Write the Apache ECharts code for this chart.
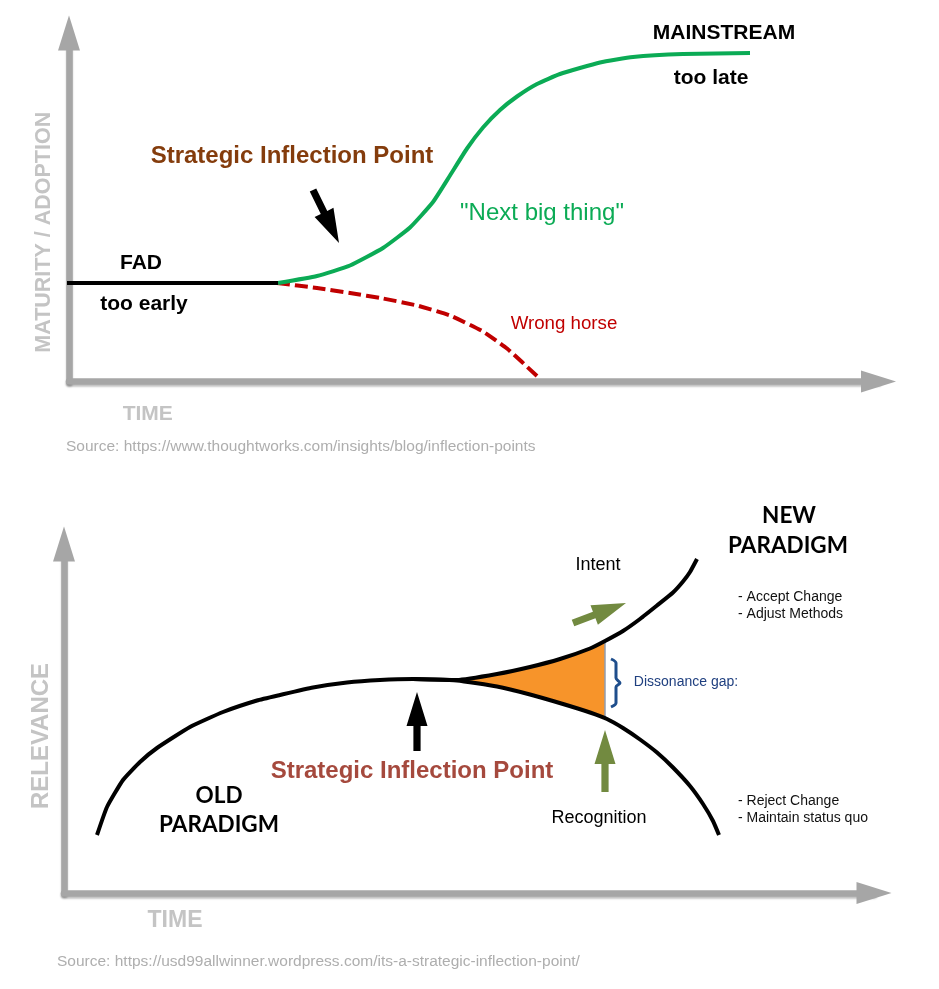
<!DOCTYPE html>
<html>
<head>
<meta charset="utf-8">
<style>
    html, body { margin: 0; padding: 0; background: #fff; }
    #main { width: 939px; height: 989px; }
</style>
</head>
<body>
<div id="main"></div>
<script src="https://cdn.jsdelivr.net/npm/echarts@6/dist/echarts.min.js"></script>
<script type="text/javascript">
    // top chart, [time, adoption]
    var fadLine = [[-2, 98.5], [209, 98.5]];
    var nextBigThing = [[209, 98.5], [248, 105.5], [281, 116], [314, 133.5], [341, 154], [364, 179.5], [381, 206], [398, 233], [414, 254], [431, 271.5], [448, 285], [468, 297.5], [491, 307.5], [531, 319], [564, 324.5], [614, 327.5], [681, 328.5]];
    var wrongHorse = [[208, 98.5], [248, 93.5], [281, 88.5], [314, 83], [348, 76], [381, 66], [414, 50], [438, 33], [468, 5.5]];
    var topArrow = [[244, 191.5, 270, 138.5]];

    // bottom chart, [time, relevance]
    var oldParadigm = [[33, 58], [43, 86], [59, 113], [76, 131], [93, 145], [126, 166], [159, 181], [193, 192.5], [216, 198], [249, 205.5], [283, 210.5], [316, 213], [349, 214], [393, 212.5], [433, 206.5], [466, 198.5], [499, 189], [526, 180.5], [543, 174], [559, 165], [576, 153.5], [593, 140.5], [609, 125.5], [626, 107], [639, 89], [649, 72], [655, 58]];
    var newParadigm = [[349, 214], [393, 213], [433, 219], [466, 226], [496, 234], [526, 244.5], [541, 252], [559, 262], [576, 274], [593, 287.5], [609, 300.5], [619, 311.5], [626, 321], [633, 334]];
    var gapLower = [[393, 212.5], [433, 206.5], [466, 198.5], [499, 189], [526, 180.5], [541, 175]];
    var gapUpper = [[541, 252], [526, 244.5], [496, 234], [466, 226], [433, 219], [393, 213]];
    var gapEdge = [[541, 252], [541, 175]];
    var gapBrace = [[547, 234], [552, 230], [552, 215], [556, 210], [552, 206], [552, 190], [547, 186]];
    var blackArrows = [[353, 142, 353, 201]];
    var greenArrows = [[541, 101, 541, 163], [509, 270, 562, 290]];

    var axisNames = ['MATURITY / ADOPTION', 'TIME', 'RELEVANCE', 'TIME'];

    // text: [label, x, y]
    var boldBlack = [['FAD', 141, 263], ['too early', 144, 304], ['MAINSTREAM', 724, 33], ['too late', 711, 78]];
    var paradigmLabels = [['NEW', 789, 516], ['PARADIGM', 788, 546], ['OLD', 219, 796], ['PARADIGM', 219, 825]];
    var plainLabels = [['Intent', 598, 565], ['Recognition', 599, 818]];
    var sideNotes = [['- Accept Change', 738, 597], ['- Adjust Methods', 738, 614], ['- Reject Change', 738, 801], ['- Maintain status quo', 738, 818]];
    var sources = [['Source: https://www.thoughtworks.com/insights/blog/inflection-points', 66, 447], ['Source: https://usd99allwinner.wordpress.com/its-a-strategic-inflection-point/', 57, 962]];

    var font = '"Liberation Sans", Arial, sans-serif';
    var axisGrey = '#a6a6a6';

    function textItems(list, style) {
        return list.map(function (t) {
            return {
                type: 'text', x: t[1], y: t[2], silent: true,
                style: Object.assign({
                    text: t[0], fontFamily: font, textAlign: 'center', textVerticalAlign: 'middle'
                }, style)
            };
        });
    }

    // block arrow from tail to tip, built on the axis scales
    function arrowRenderer(color) {
        return function (params, api) {
            var a = api.coord([api.value(0), api.value(1)]);
            var b = api.coord([api.value(2), api.value(3)]);
            var dx = b[0] - a[0], dy = b[1] - a[1];
            var len = Math.sqrt(dx * dx + dy * dy);
            var ux = dx / len, uy = dy / len;
            var nx = -uy, ny = ux;
            var hx = b[0] - ux * 34, hy = b[1] - uy * 34;
            return {
                type: 'polygon',
                shape: {
                    points: [
                        [a[0] + nx * 3.6, a[1] + ny * 3.6],
                        [hx + nx * 3.6, hy + ny * 3.6],
                        [hx + nx * 10.5, hy + ny * 10.5],
                        b,
                        [hx - nx * 10.5, hy - ny * 10.5],
                        [hx - nx * 3.6, hy - ny * 3.6],
                        [a[0] - nx * 3.6, a[1] - ny * 3.6]
                    ]
                },
                style: { fill: color }
            };
        };
    }

    function gapRenderer(params, api) {
        var pts = gapLower.concat(gapUpper).map(function (p) { return api.coord(p); });
        return { type: 'polygon', shape: { points: pts }, style: { fill: '#f7942a' } };
    }

    function axisBase(width, height, dir) {
        var vertical = dir === 'y';
        return {
            type: 'value', min: 0, max: vertical ? height : width,
            axisLine: {
                show: true, onZero: false,
                symbol: ['none', 'triangle'],
                symbolSize: [22, 35],
                lineStyle: { color: axisGrey, width: 6.5, shadowColor: 'rgba(0,0,0,0.25)', shadowBlur: 2, shadowOffsetY: 2 }
            },
            axisTick: { show: false },
            axisLabel: { show: false },
            splitLine: { show: false }
        };
    }

    function lineSeries(data, axis, color, width, extra) {
        return Object.assign({
            type: 'line', data: data, xAxisIndex: axis, yAxisIndex: axis,
            showSymbol: false, symbol: 'none', smooth: 0.15, clip: false, silent: true,
            lineStyle: { color: color, width: width, cap: 'butt' }
        }, extra || {});
    }

    function nameStyle(size, color, padding) {
        return { fontFamily: font, fontWeight: 'bold', fontSize: size, color: color, padding: padding };
    }

    var xTop = axisBase(809.5, 348.5, 'x');
    xTop.name = axisNames[1];
    xTop.nameLocation = 'middle';
    xTop.nameGap = 22;
    xTop.nameTextStyle = nameStyle(21, '#c4c4c4', [0, 652, 0, 0]);

    var yTop = axisBase(809.5, 348.5, 'y');
    yTop.name = axisNames[0];
    yTop.nameLocation = 'middle';
    yTop.nameGap = 14;
    yTop.nameTextStyle = nameStyle(21.5, '#c4c4c4', [0, 50, 0, 0]);

    var xBottom = axisBase(810, 349, 'x');
    xBottom.gridIndex = 1;
    xBottom.name = axisNames[3];
    xBottom.nameLocation = 'middle';
    xBottom.nameGap = 16;
    xBottom.nameTextStyle = nameStyle(23, '#c4c4c4', [0, 588, 0, 0]);

    var yBottom = axisBase(810, 349, 'y');
    yBottom.gridIndex = 1;
    yBottom.name = axisNames[2];
    yBottom.nameLocation = 'middle';
    yBottom.nameGap = 11;
    yBottom.nameTextStyle = nameStyle(24, '#c4c4c4', [0, 35, 0, 0]);

    var myChart = echarts.init(document.getElementById('main'));
    var option = {
        backgroundColor: '#fff',
        animation: false,
        grid: [
            { left: 69, top: 33, width: 809.5, height: 348.5 },
            { left: 64, top: 544, width: 810, height: 349 }
        ],
        xAxis: [xTop, xBottom],
        yAxis: [yTop, yBottom],
        series: [
            lineSeries(wrongHorse, 0, '#c00000', 4, { lineStyle: { color: '#c00000', width: 4, type: [13, 5] } }),
            lineSeries(nextBigThing, 0, '#0bab55', 4),
            lineSeries(fadLine, 0, '#000', 4, { smooth: false }),
            { type: 'custom', xAxisIndex: 0, yAxisIndex: 0, data: topArrow, clip: false, silent: true, renderItem: arrowRenderer('#000') },

            { type: 'custom', xAxisIndex: 1, yAxisIndex: 1, data: [[0, 0]], clip: false, silent: true, z: 1, renderItem: gapRenderer },
            lineSeries(gapEdge, 1, '#8f9db0', 1.5, { smooth: false }),
            lineSeries(oldParadigm, 1, '#000', 4),
            lineSeries(newParadigm, 1, '#000', 4),
            lineSeries(gapBrace, 1, '#1f4e8c', 3, { smooth: 0.3 }),
            { type: 'custom', xAxisIndex: 1, yAxisIndex: 1, data: blackArrows, clip: false, silent: true, renderItem: arrowRenderer('#000') },
            { type: 'custom', xAxisIndex: 1, yAxisIndex: 1, data: greenArrows, clip: false, silent: true, renderItem: arrowRenderer('#728a40') }
        ],
        graphic: [].concat(
            textItems(boldBlack, { fontWeight: 'bold', fontSize: 21, fill: '#000' }),
            textItems(paradigmLabels, { fontFamily: 'Lato, sans-serif', fontWeight: 'bold', fontSize: 22.5, fill: '#000' }),
            textItems(plainLabels, { fontSize: 18, fill: '#000' }),
            textItems(sideNotes, { fontSize: 14, fill: '#111', textAlign: 'left' }),
            textItems(sources, { fontSize: 15.5, fill: '#aeaeae', textAlign: 'left' }),
            textItems([['Strategic Inflection Point', 292, 156]], { fontWeight: 'bold', fontSize: 24, fill: '#843c0c' }),
            textItems([['Strategic Inflection Point', 412, 771]], { fontWeight: 'bold', fontSize: 24, fill: '#a5493d' }),
            textItems([['"Next big thing"', 542, 213]], { fontSize: 24, fill: '#0bab55' }),
            textItems([['Wrong horse', 564, 324]], { fontSize: 18.7, fill: '#c00000' }),
            textItems([['Dissonance gap:', 686, 682]], { fontSize: 14, fill: '#1f3f7f' })
        )
    };
    myChart.setOption(option);
</script>
</body>
</html>
